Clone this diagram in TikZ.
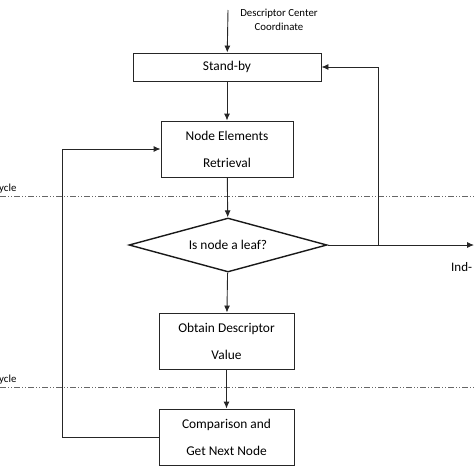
\documentclass[tikz,border=0pt]{standalone}
\usepackage{fontspec}
\setmainfont{Carlito}
\usepackage{tikz}
\usetikzlibrary{shapes.geometric}
\usetikzlibrary{arrows.meta}

\begin{document}
\begin{tikzpicture}[x=1pt,y=-1pt,
						boxnode/.style={rectangle, draw=black!85, line width=0.9pt, fill=white, align=center, inner sep=0pt, font=\fontsize{13.4}{27}\selectfont},
						decnode/.style={diamond, draw=black!90, line width=1.4pt, fill=white, aspect=3.67, inner sep=0pt, minimum width=198, minimum height=54, font=\fontsize{13.4}{16}\selectfont},
						flow/.style={-{Latex[length=7pt,width=6pt]}, draw=black!85, line width=0.9pt},
						cycleline/.style={draw=black!60, line width=0.8pt, dash pattern=on 6pt off 2pt on 1pt off 2pt on 1pt off 2pt},
						]
						\useasboundingbox (0,0) rectangle (474,474);
						%Nodes
						\node[boxnode, minimum width=188, minimum height=28]      (stby) 	at 	(227,67)           {Stand-by};
						\node[boxnode, minimum width=132, minimum height=56]      (ret) 	at 	(227,149)          {Node Elements\\Retrieval};
						\node[decnode]      (leaf) 	at 	(228,245)          {Is node a leaf?};
						\node[boxnode, minimum width=135, minimum height=56]      (desc) 	at 	(226.5,341)        {Obtain Descriptor\\Value};
						\node[boxnode, minimum width=135, minimum height=56]      (cmp) 	at 	(226.5,437)        {Comparison and\\Get Next Node};
						\node[align=center, font=\fontsize{10.8}{14}\selectfont]      (inlabel) 	at 	(279,20)           {Descriptor Center\\Coordinate};
						\node[anchor=west, inner sep=0pt, font=\fontsize{13}{16}\selectfont]      (outlabel) 	at 	(451,267)          {Ind-};
						\node[anchor=west, inner sep=0pt, font=\fontsize{10.8}{14}\selectfont]      (cyc1) 	at 	(-1,189)           {ycle};
						\node[anchor=west, inner sep=0pt, font=\fontsize{10.8}{14}\selectfont]      (cyc2) 	at 	(-1,380)           {ycle};
						\coordinate      (in) 	at 	(228,10);
						\coordinate      (out) 	at 	(474,245);
						\coordinate      (jn) 	at 	(378,245);
						\coordinate      (loop) 	at 	(62,437);

						%Cycle borders
						\draw[cycleline] (0,196) -- (474,196);
						\draw[cycleline] (0,387) -- (474,387);

						%Connectors
						\draw[flow] (in) --  (stby);
						\draw[flow] (stby) --  (ret);
						\draw[flow] (ret) --  (leaf);
						\draw[flow] (leaf) --  (desc);
						\draw[flow] (desc) --  (cmp);
						\draw[flow] (leaf.east) --  (out);
						\draw[flow] (jn) |-  (stby.east);
						\draw[flow] (cmp.west) -- (loop) |-  (ret.west);
					\end{tikzpicture}
\end{document}
